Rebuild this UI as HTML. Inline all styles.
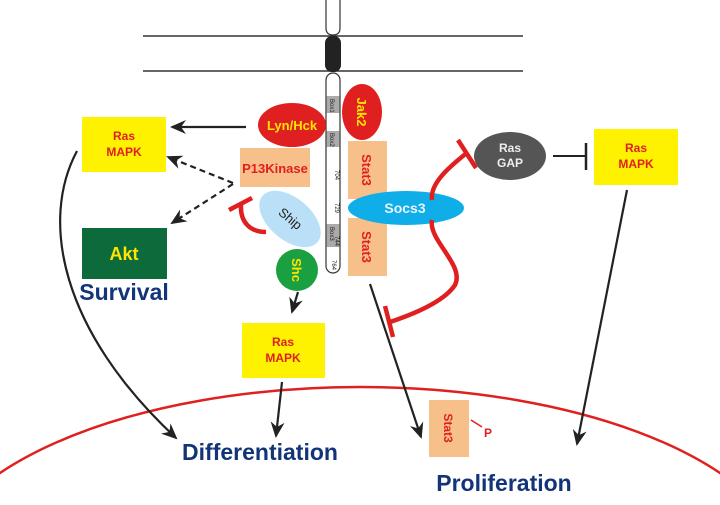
<!DOCTYPE html>
<html><head><style>html,body{margin:0;background:#fff;overflow:hidden;width:720px;height:505px}svg{display:block}text{font-family:"Liberation Sans",sans-serif;font-weight:bold}</style></head><body>
<svg width="720" height="505" viewBox="0 0 720 505" xmlns="http://www.w3.org/2000/svg" style="overflow:hidden">
<defs>
<marker id="ah" viewBox="0 0 16 14" refX="14" refY="7" markerWidth="16" markerHeight="14" orient="auto" markerUnits="userSpaceOnUse">
<path d="M0,0 L16,7 L0,14 L5,7 Z" fill="#222"/></marker>
</defs>
<!-- nucleus -->
<ellipse cx="360" cy="577" rx="430" ry="190" fill="none" stroke="#e02020" stroke-width="2.5"/>
<!-- membrane -->
<line x1="143" y1="36" x2="523" y2="36" stroke="#333" stroke-width="1.5"/>
<line x1="143" y1="71" x2="523" y2="71" stroke="#333" stroke-width="1.5"/>
<!-- receptor -->
<path d="M326,0 V28 Q326,35 333,35 Q340,35 340,28 V0" fill="#fff" stroke="#333" stroke-width="1.2"/>
<rect x="325" y="36" width="16" height="36" rx="7" fill="#222"/>
<rect x="326" y="73" width="14" height="200" rx="7" fill="#fff" stroke="#333" stroke-width="1.2"/>
<rect x="326.5" y="96" width="13" height="17" fill="#aaa"/>
<rect x="326.5" y="131" width="13" height="16" fill="#aaa"/>
<rect x="326.5" y="224" width="13" height="23" fill="#aaa"/>
<g font-size="6" fill="#222">
<text x="330" y="99" transform="rotate(90 330 99)" style="font-weight:normal">Box1</text>
<text x="330" y="133" transform="rotate(90 330 133)" style="font-weight:normal">Box2</text>
<text x="330" y="227" transform="rotate(90 330 227)" style="font-weight:normal">Box3</text>
<text x="335" y="170" transform="rotate(90 335 170)" style="font-weight:normal">704</text>
<text x="335" y="203" transform="rotate(90 335 203)" style="font-weight:normal">729</text>
<text x="335" y="236" transform="rotate(90 335 236)" style="font-weight:normal">744</text>
<text x="332" y="260" transform="rotate(90 332 260)" style="font-weight:normal">764</text>
</g>
<!-- Jak2 -->
<ellipse cx="362" cy="112" rx="20" ry="28" fill="#e02020"/>
<text x="357" y="112" transform="rotate(90 357 112)" font-size="13" fill="#ffe500" text-anchor="middle">Jak2</text>
<!-- Stat3s -->
<rect x="348" y="141" width="39" height="58" fill="#f7c08a"/>
<text x="362" y="170" transform="rotate(90 362 170)" font-size="13" fill="#e02020" text-anchor="middle">Stat3</text>
<rect x="348" y="218" width="39" height="58" fill="#f7c08a"/>
<text x="362" y="247" transform="rotate(90 362 247)" font-size="13" fill="#e02020" text-anchor="middle">Stat3</text>
<!-- Socs3 -->
<ellipse cx="406" cy="208" rx="58" ry="17" fill="#10aee8"/>
<text x="405" y="213" font-size="14" fill="#e8f4ff" text-anchor="middle">Socs3</text>
<!-- Lyn/Hck -->
<ellipse cx="292" cy="125" rx="34" ry="22" fill="#e02020"/>
<text x="292" y="130" font-size="13" fill="#ffe500" text-anchor="middle">Lyn/Hck</text>
<!-- P13Kinase -->
<rect x="240" y="148" width="70" height="39" fill="#f7c08a"/>
<text x="275" y="173" font-size="13" fill="#e02020" text-anchor="middle">P13Kinase</text>
<!-- Ship -->
<ellipse cx="290" cy="219" rx="36" ry="21" transform="rotate(40 290 219)" fill="#b9e0f7"/>
<text x="290" y="223" font-size="13" fill="#222" text-anchor="middle" transform="rotate(40 290 219)" style="font-weight:normal">Ship</text>
<!-- Shc -->
<circle cx="297" cy="270" r="21" fill="#1aa040"/>
<text x="292" y="270" transform="rotate(90 292 270)" font-size="13" fill="#ffe500" text-anchor="middle">Shc</text>
<!-- boxes -->
<rect x="82" y="117" width="84" height="55" fill="#fff200"/>
<text x="124" y="140" font-size="12" fill="#e02020" text-anchor="middle">Ras</text>
<text x="124" y="156" font-size="12" fill="#e02020" text-anchor="middle">MAPK</text>
<rect x="82" y="228" width="85" height="51" fill="#0d6a3a"/>
<text x="124" y="260" font-size="18" fill="#ffe500" text-anchor="middle">Akt</text>
<text x="124" y="300" font-size="23" fill="#123478" text-anchor="middle">Survival</text>
<rect x="242" y="323" width="83" height="55" fill="#fff200"/>
<text x="283" y="346" font-size="12" fill="#e02020" text-anchor="middle">Ras</text>
<text x="283" y="362" font-size="12" fill="#e02020" text-anchor="middle">MAPK</text>
<rect x="594" y="129" width="84" height="56" fill="#fff200"/>
<text x="636" y="152" font-size="12" fill="#e02020" text-anchor="middle">Ras</text>
<text x="636" y="168" font-size="12" fill="#e02020" text-anchor="middle">MAPK</text>
<!-- RasGAP -->
<ellipse cx="510" cy="156" rx="36" ry="24" fill="#555"/>
<text x="510" y="152" font-size="12" fill="#eee" text-anchor="middle">Ras</text>
<text x="510" y="167" font-size="12" fill="#eee" text-anchor="middle">GAP</text>
<line x1="553" y1="156" x2="586" y2="156" stroke="#222" stroke-width="2"/>
<line x1="586" y1="143" x2="586" y2="170" stroke="#222" stroke-width="2.5"/>
<!-- nucleus Stat3 -->
<rect x="429" y="400" width="40" height="57" fill="#f7c08a"/>
<text x="444" y="428" transform="rotate(90 444 428)" font-size="12" fill="#e02020" text-anchor="middle">Stat3</text>
<line x1="471" y1="420" x2="482" y2="427" stroke="#e02020" stroke-width="1.5"/>
<text x="484" y="437" font-size="12" fill="#e02020">P</text>
<text x="260" y="460" font-size="23" fill="#123478" text-anchor="middle">Differentiation</text>
<text x="504" y="491" font-size="23" fill="#123478" text-anchor="middle">Proliferation</text>
<!-- arrows -->
<g stroke="#222" stroke-width="2.2" fill="none" marker-end="url(#ah)">
<line x1="246" y1="127" x2="172" y2="127"/>
<line x1="233" y1="183" x2="168" y2="157" stroke-dasharray="6,4"/>
<line x1="233" y1="184" x2="172" y2="223" stroke-dasharray="6,4"/>
<line x1="298" y1="292" x2="292" y2="312"/>
<line x1="282" y1="382" x2="276" y2="436"/>
<line x1="370" y1="284" x2="421" y2="437"/>
<line x1="627" y1="190" x2="577" y2="444"/>
<path d="M77,151 C40,220 60,330 176,438"/>
</g>
<!-- red inhibitions -->
<g stroke="#e02020" stroke-width="4.5" fill="none">
<path d="M266,232 C250,232 240,222 241,205"/>
<line x1="229" y1="210" x2="252" y2="198"/>
<path d="M468,152 C445,170 430,185 432,200 M432,220 C428,240 465,265 455,285 C445,300 420,312 390,322"/>
<line x1="458" y1="140" x2="476" y2="168"/>
<line x1="385" y1="306" x2="393" y2="337"/>
</g>
</svg>
</body></html>
